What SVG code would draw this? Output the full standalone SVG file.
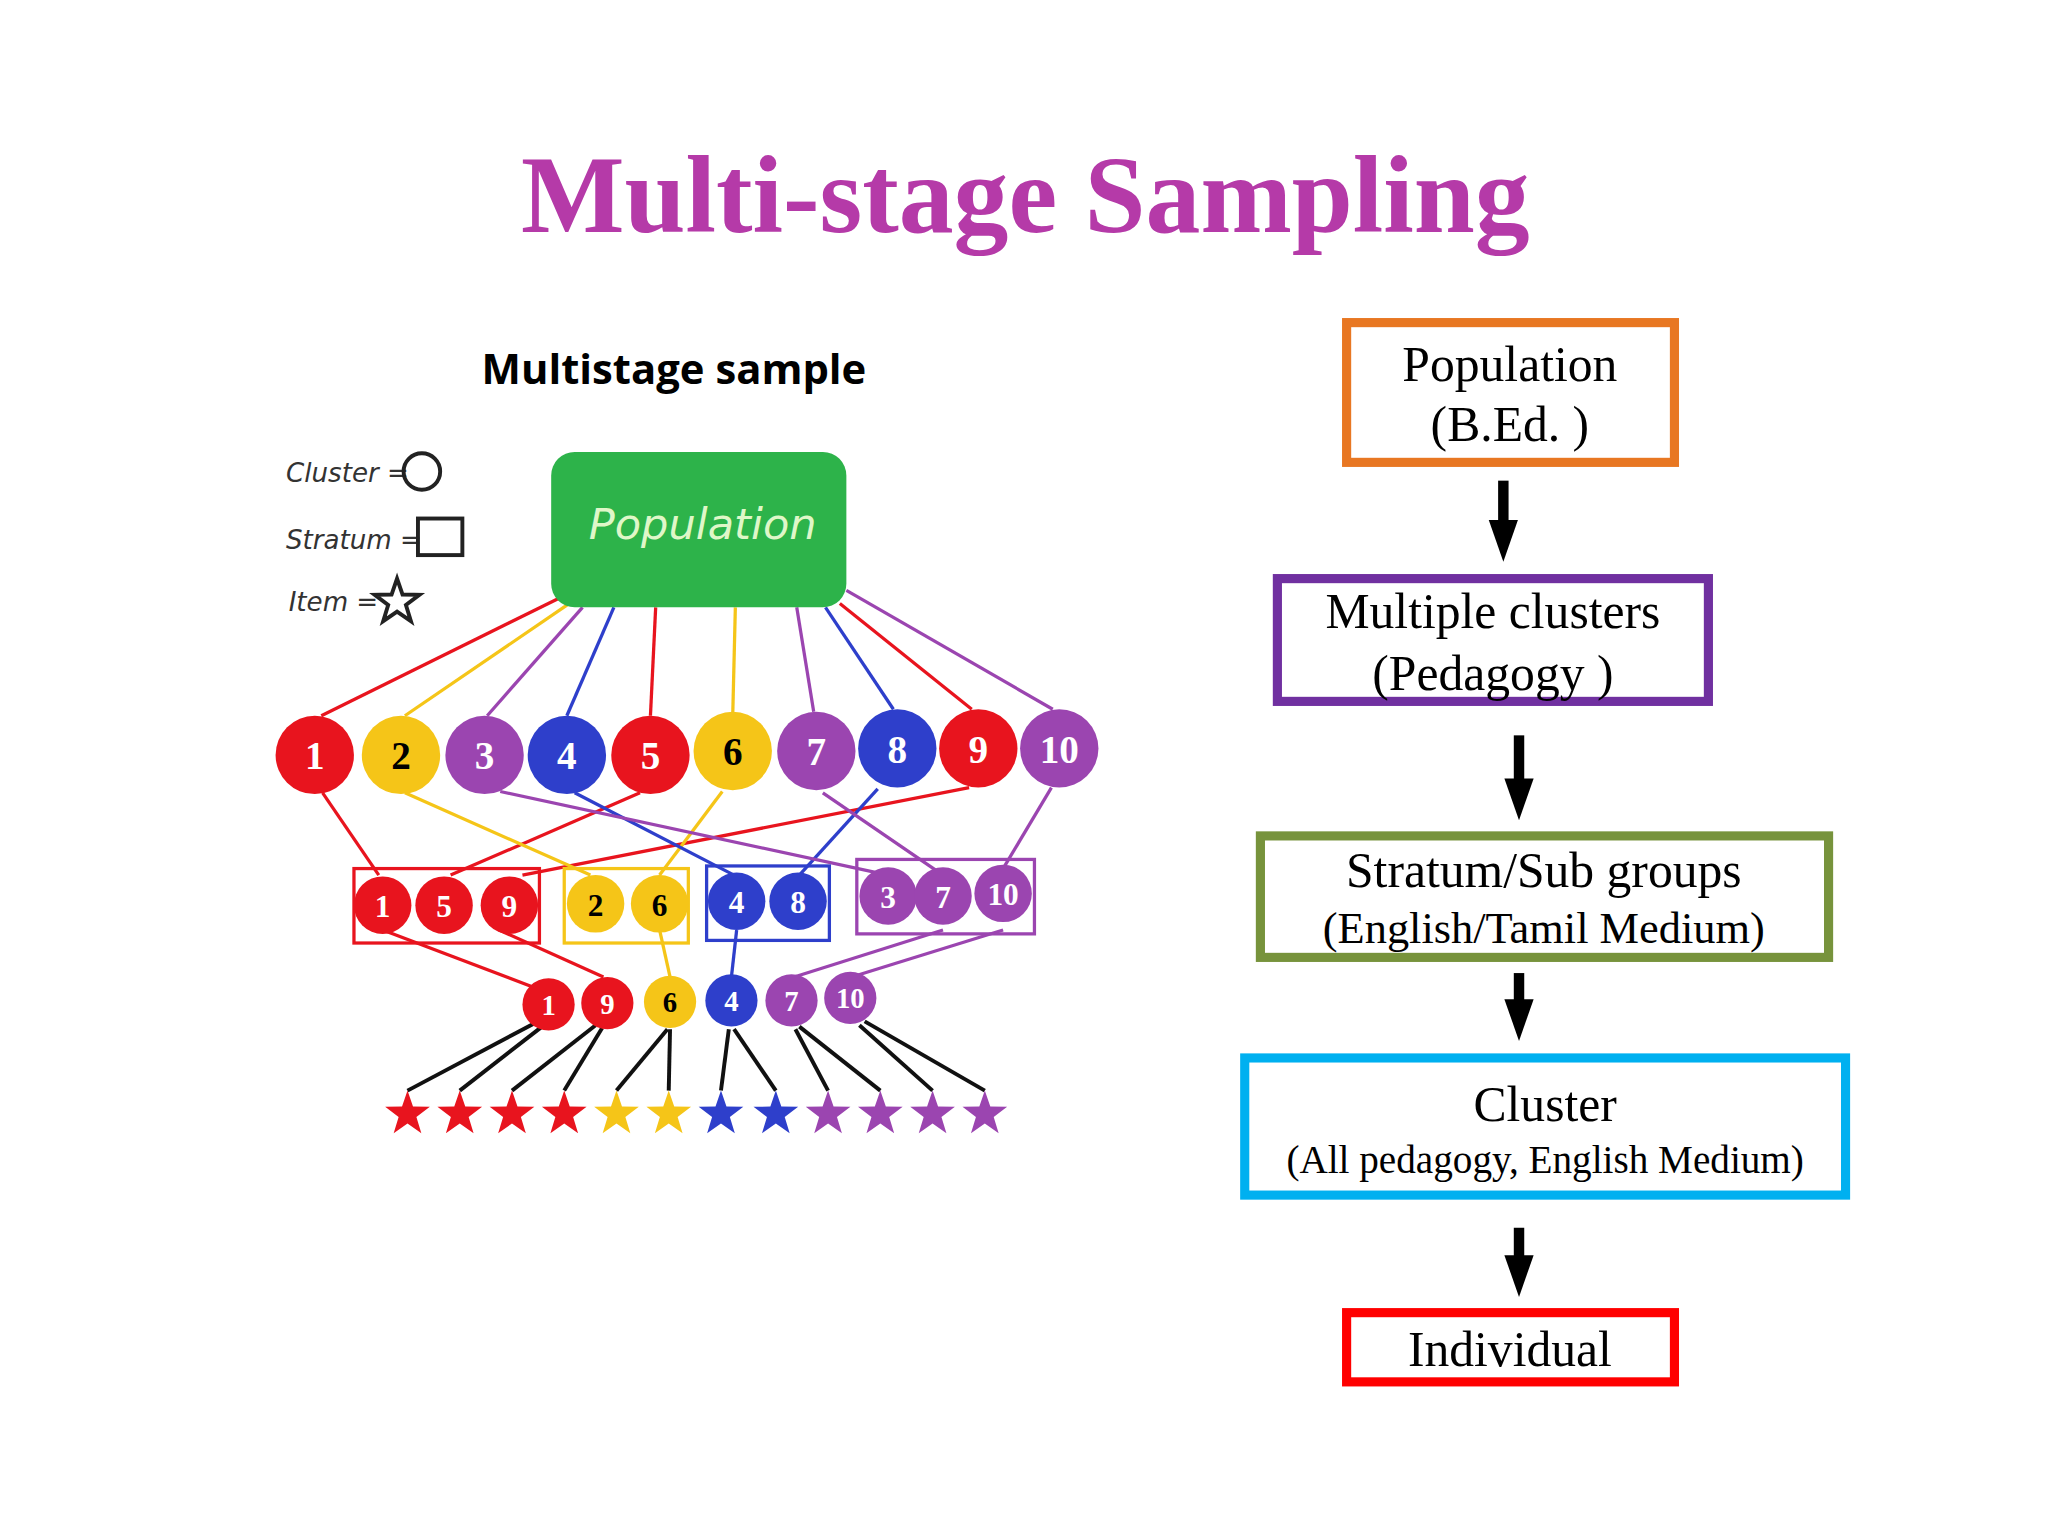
<svg xmlns="http://www.w3.org/2000/svg" xmlns:xlink="http://www.w3.org/1999/xlink" width="2048" height="1536" viewBox="0 0 2048 1536">
<style>
.t{font-family:"Liberation Serif",serif;fill:#000;text-anchor:middle}
.n{font-family:"Liberation Serif",serif;font-weight:bold;fill:#fff;text-anchor:middle}
.lg{font-family:"DejaVu Sans",sans-serif;font-style:italic;font-size:20px;fill:#333}
.fb{fill:none;stroke-width:7}
.ln{stroke-width:2.5;fill:none}
.R{fill:#E8141E}.Y{fill:#F5C518}.P{fill:#9B45B0}.B{fill:#2E3FCB}
.sR{stroke:#E8141E}.sY{stroke:#F5C518}.sP{stroke:#9B45B0}.sB{stroke:#2E3FCB}
</style>
<defs>
<polygon id="star" points="0,-18 4.2,-5.8 17.1,-5.6 6.8,2.2 10.6,14.6 0,7.2 -10.6,14.6 -6.8,2.2 -17.1,-5.6 -4.2,-5.8"/>
<marker id="ah" markerWidth="4" markerHeight="4" refX="2" refY="2" orient="auto" markerUnits="strokeWidth"><path d="M0,0.6 L4,2 L0,3.4 Z" fill="#000"/></marker>
</defs>
<rect width="2048" height="1536" fill="#fff"/>
<g transform="scale(1.30612)">
<text x="785" y="178" class="t" style="font-size:84px;font-weight:bold;fill:#B53AA8">Multi-stage Sampling</text>
<text x="516" y="294" style="font-family:'Open Sans','DejaVu Sans',sans-serif;font-weight:bold;font-size:32px;text-anchor:middle">Multistage sample</text>
<g id="legend">
<text x="219" y="369" class="lg">Cluster =</text><circle cx="323" cy="361" r="14" fill="none" stroke="#222" stroke-width="3"/>
<text x="219" y="420" class="lg">Stratum =</text><rect x="320" y="397" width="34" height="28" fill="none" stroke="#222" stroke-width="3"/>
<text x="221" y="468" class="lg">Item =</text><use xlink:href="#star" x="304" y="461" fill="none" stroke="#222" stroke-width="3"/>
</g>
<g id="connectors">
<g class="ln">
<line x1="428" y1="458" x2="246" y2="548" class="sR"/>
<line x1="436" y1="462" x2="310" y2="548" class="sY"/>
<line x1="446" y1="465" x2="373" y2="548" class="sP"/>
<line x1="470" y1="465" x2="434" y2="548" class="sB"/>
<line x1="502" y1="465" x2="498" y2="548" class="sR"/>
<line x1="563" y1="465" x2="561" y2="548" class="sY"/>
<line x1="610" y1="465" x2="623" y2="545" class="sP"/>
<line x1="632" y1="465" x2="684" y2="543" class="sB"/>
<line x1="643" y1="462" x2="744" y2="543" class="sR"/>
<line x1="648" y1="452" x2="806" y2="543" class="sP"/>
<line x1="247" y1="607" x2="290" y2="670" class="sR"/>
<line x1="490" y1="607" x2="345" y2="670" class="sR"/>
<line x1="742" y1="603" x2="400" y2="670" class="sR"/>
<line x1="310" y1="607" x2="452" y2="670" class="sY"/>
<line x1="553" y1="606" x2="505" y2="670" class="sY"/>
<line x1="440" y1="607" x2="562" y2="670" class="sB"/>
<line x1="672" y1="604" x2="612" y2="670" class="sB"/>
<line x1="383" y1="606" x2="680" y2="670" class="sP"/>
<line x1="630" y1="607" x2="722" y2="670" class="sP"/>
<line x1="805" y1="603" x2="768" y2="665" class="sP"/>
<line x1="293" y1="712" x2="414" y2="758" class="sR"/>
<line x1="382" y1="712" x2="462" y2="748" class="sR"/>
<line x1="505" y1="712" x2="513" y2="748" class="sY"/>
<line x1="564" y1="712" x2="560" y2="748" class="sB"/>
<line x1="722" y1="712" x2="608" y2="748" class="sP"/>
<line x1="768" y1="712" x2="652" y2="748" class="sP"/>
</g>
<g stroke="#111" stroke-width="3">
<line x1="410" y1="783" x2="312" y2="835"/><line x1="415" y1="786" x2="352" y2="835"/>
<line x1="456" y1="785" x2="392" y2="835"/><line x1="461" y1="787" x2="432" y2="835"/>
<line x1="511" y1="788" x2="472" y2="835"/><line x1="513" y1="788" x2="512" y2="835"/>
<line x1="558" y1="788" x2="552" y2="835"/><line x1="562" y1="788" x2="594" y2="835"/>
<line x1="609" y1="788" x2="634" y2="835"/><line x1="612" y1="786" x2="674" y2="835"/>
<line x1="658" y1="785" x2="714" y2="835"/><line x1="662" y1="782" x2="754" y2="835"/>
</g>
<g stroke="#000" stroke-width="8" marker-end="url(#ah)">
<line x1="1151" y1="368" x2="1151" y2="414"/>
<line x1="1163" y1="563" x2="1163" y2="612"/>
<line x1="1163" y1="745" x2="1163" y2="781"/>
<line x1="1163" y1="940" x2="1163" y2="977"/>
</g>
</g>
<g id="population"><rect x="422" y="346" width="226" height="119" rx="18" fill="#2DB34A"/>
<text x="538" y="413" style="font-family:'DejaVu Sans',sans-serif;font-style:italic;font-size:33px;fill:#dff7c8;text-anchor:middle">Population</text></g>
<g id="row1" style="font-size:30px">
<circle cx="241" cy="578" r="30" class="R"/><text x="241" y="589" class="n">1</text>
<circle cx="307" cy="578" r="30" class="Y"/><text x="307" y="589" class="n" style="fill:#000">2</text>
<circle cx="371" cy="578" r="30" class="P"/><text x="371" y="589" class="n">3</text>
<circle cx="434" cy="578" r="30" class="B"/><text x="434" y="589" class="n">4</text>
<circle cx="498" cy="578" r="30" class="R"/><text x="498" y="589" class="n">5</text>
<circle cx="561" cy="575" r="30" class="Y"/><text x="561" y="586" class="n" style="fill:#000">6</text>
<circle cx="625" cy="575" r="30" class="P"/><text x="625" y="586" class="n">7</text>
<circle cx="687" cy="573" r="30" class="B"/><text x="687" y="584" class="n">8</text>
<circle cx="749" cy="573" r="30" class="R"/><text x="749" y="584" class="n">9</text>
<circle cx="811" cy="573" r="30" class="P"/><text x="811" y="584" class="n">10</text>
</g>
<g id="row2" style="font-size:24px">
<rect x="271" y="665" width="142" height="57" fill="none" class="sR" stroke-width="2.5"/>
<circle cx="293" cy="693" r="22" class="R"/><text x="293" y="702" class="n">1</text>
<circle cx="340" cy="693" r="22" class="R"/><text x="340" y="702" class="n">5</text>
<circle cx="390" cy="693" r="22" class="R"/><text x="390" y="702" class="n">9</text>
<rect x="432" y="665" width="95" height="57" fill="none" class="sY" stroke-width="2.5"/>
<circle cx="456" cy="692" r="22" class="Y"/><text x="456" y="701" class="n" style="fill:#000">2</text>
<circle cx="505" cy="692" r="22" class="Y"/><text x="505" y="701" class="n" style="fill:#000">6</text>
<rect x="541" y="663" width="94" height="57" fill="none" class="sB" stroke-width="2.5"/>
<circle cx="564" cy="690" r="22" class="B"/><text x="564" y="699" class="n">4</text>
<circle cx="611" cy="690" r="22" class="B"/><text x="611" y="699" class="n">8</text>
<rect x="656" y="658" width="136" height="57" fill="none" class="sP" stroke-width="2.5"/>
<circle cx="680" cy="686" r="22" class="P"/><text x="680" y="695" class="n">3</text>
<circle cx="722" cy="686" r="22" class="P"/><text x="722" y="695" class="n">7</text>
<circle cx="768" cy="684" r="22" class="P"/><text x="768" y="693" class="n">10</text>
</g>
<g id="row3" style="font-size:22px">
<circle cx="420" cy="769" r="20" class="R"/><text x="420" y="777" class="n">1</text>
<circle cx="465" cy="768" r="20" class="R"/><text x="465" y="776" class="n">9</text>
<circle cx="513" cy="767" r="20" class="Y"/><text x="513" y="775" class="n" style="fill:#000">6</text>
<circle cx="560" cy="766" r="20" class="B"/><text x="560" y="774" class="n">4</text>
<circle cx="606" cy="766" r="20" class="P"/><text x="606" y="774" class="n">7</text>
<circle cx="651" cy="764" r="20" class="P"/><text x="651" y="772" class="n">10</text>
</g>
<g id="stars">
<use xlink:href="#star" x="312" y="853" class="R"/><use xlink:href="#star" x="352" y="853" class="R"/>
<use xlink:href="#star" x="392" y="853" class="R"/><use xlink:href="#star" x="432" y="853" class="R"/>
<use xlink:href="#star" x="472" y="853" class="Y"/><use xlink:href="#star" x="512" y="853" class="Y"/>
<use xlink:href="#star" x="552" y="853" class="B"/><use xlink:href="#star" x="594" y="853" class="B"/>
<use xlink:href="#star" x="634" y="853" class="P"/><use xlink:href="#star" x="674" y="853" class="P"/>
<use xlink:href="#star" x="714" y="853" class="P"/><use xlink:href="#star" x="754" y="853" class="P"/>
</g>
<g id="f1"><rect x="1031" y="247" width="251" height="107" class="fb" stroke="#E87722"/>
<text x="1156" y="292" class="t" style="font-size:38px">Population</text><text x="1156" y="338" class="t" style="font-size:38px">(B.Ed. )</text></g>
<g id="f2"><rect x="978" y="443" width="330" height="94" class="fb" stroke="#7030A0"/>
<text x="1143" y="481" class="t" style="font-size:38px">Multiple clusters</text><text x="1143" y="528" class="t" style="font-size:38px">(Pedagogy )</text></g>
<g id="f3"><rect x="965" y="640" width="435" height="93" class="fb" stroke="#77933C"/>
<text x="1182" y="679" class="t" style="font-size:38px">Stratum/Sub groups</text><text x="1182" y="722" class="t" style="font-size:34px">(English/Tamil Medium)</text></g>
<g id="f4"><rect x="953" y="810" width="460" height="105" class="fb" stroke="#00B0F0"/>
<text x="1183" y="858" class="t" style="font-size:38px">Cluster</text><text x="1183" y="898" class="t" style="font-size:30px">(All pedagogy, English Medium)</text></g>
<g id="f5"><rect x="1031" y="1005" width="251" height="53" class="fb" stroke="#FF0000"/>
<text x="1156" y="1046" class="t" style="font-size:38px">Individual</text></g>
</g>
</svg>
